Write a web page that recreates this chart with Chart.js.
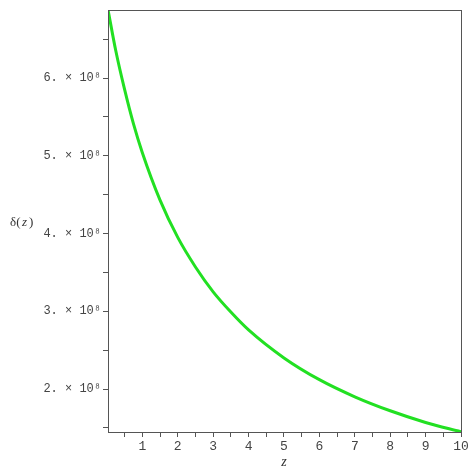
<!DOCTYPE html>
<html>
<head>
<meta charset="utf-8">
<script src="https://cdn.jsdelivr.net/npm/chart.js@4"></script>
<style>
  html, body { margin: 0; padding: 0; background: #fff; }
  #wrap { width: 474px; height: 474px; }
</style>
</head>
<body>
<div id="wrap"><canvas id="c" width="474" height="474"></canvas></div>
<script>
// datos
const zValues = [0.03, 0.25, 0.5, 0.75, 1, 1.5, 2, 2.5, 3, 3.5, 4, 5, 6, 7, 8, 9, 10];
const deltaValues = [6.88e8, 6.35e8, 5.85e8, 5.41e8, 5.04e8, 4.43e8, 3.95e8, 3.57e8, 3.25e8,
  2.99e8, 2.76e8, 2.40e8, 2.12e8, 1.90e8, 1.72e8, 1.57e8, 1.45e8];
const xTicks = [0.5, 1, 1.5, 2, 2.5, 3, 3.5, 4, 4.5, 5, 5.5, 6, 6.5, 7, 7.5, 8, 8.5, 9, 9.5, 10];
const yTicks = [1.5e8, 2e8, 2.5e8, 3e8, 3.5e8, 4e8, 4.5e8, 5e8, 5.5e8, 6e8, 6.5e8];
const xLabels = ["1", "2", "3", "4", "5", "6", "7", "8", "9", "10"];
const yLabels = ["2. × 10⁸", "3. × 10⁸", "4. × 10⁸", "5. × 10⁸", "6. × 10⁸"];

const axisColor = "#555";
const tickFont = { family: "Liberation Mono", size: 12 };

const boxPlugin = {
  id: "box",
  afterDraw(chart) {
    const { ctx, chartArea: a } = chart;
    ctx.save();
    ctx.strokeStyle = axisColor;
    ctx.lineWidth = 1;
    ctx.strokeRect(a.left + 0.5, a.top + 0.5, a.right - a.left, a.bottom - a.top);
    ctx.fillStyle = "#333";
    ctx.font = "italic 14px 'Liberation Serif'";
    ctx.textAlign = "center";
    ctx.fillText("z", 284, 466);
    ctx.textAlign = "left";
    ctx.font = "13px 'Liberation Serif'";
    ctx.fillText("δ(", 10, 226);
    ctx.font = "italic 13px 'Liberation Serif'";
    ctx.fillText("z", 22, 226);
    ctx.font = "13px 'Liberation Serif'";
    ctx.fillText(")", 29, 226);
    ctx.restore();
  },
};

new Chart(document.getElementById("c"), {
  type: "line",
  data: {
    datasets: [{
      data: zValues.map((z, i) => ({ x: z, y: deltaValues[i] })),
      borderColor: "#22e022",
      borderWidth: 3,
      pointRadius: 0,
      tension: 0.4,
      cubicInterpolationMode: "monotone",
      fill: false,
    }],
  },
  options: {
    responsive: false,
    animation: false,
    layout: { padding: { top: 10, right: 13, left: 0, bottom: 0 } },
    plugins: { legend: { display: false }, tooltip: { enabled: false } },
    scales: {
      x: {
        type: "linear",
        min: 0.03,
        max: 10,
        afterBuildTicks: (s) => { s.ticks = xTicks.map((v) => ({ value: v })); },
        afterFit: (s) => { s.height = 42; },
        grid: { drawOnChartArea: false, color: axisColor, tickLength: 5 },
        border: { color: axisColor },
        ticks: {
          color: "#444",
          font: { family: "Liberation Mono", size: 13 },
          padding: 2,
          maxRotation: 0,
          autoSkip: false,
          callback: (v) => (Number.isInteger(v) ? xLabels[v - 1] : ""),
        },
      },
      y: {
        type: "linear",
        min: 1.447e8,
        max: 6.875e8,
        afterBuildTicks: (s) => { s.ticks = yTicks.map((v) => ({ value: v })); },
        afterFit: (s) => { s.width = 108; },
        grid: { drawOnChartArea: false, color: axisColor, tickLength: 5 },
        border: { color: axisColor },
        ticks: {
          color: "#444",
          font: tickFont,
          padding: 2,
          autoSkip: false,
          callback: (v) => (v % 1e8 === 0 ? yLabels[v / 1e8 - 2] : ""),
        },
      },
    },
  },
  plugins: [boxPlugin],
});
</script>
</body>
</html>
